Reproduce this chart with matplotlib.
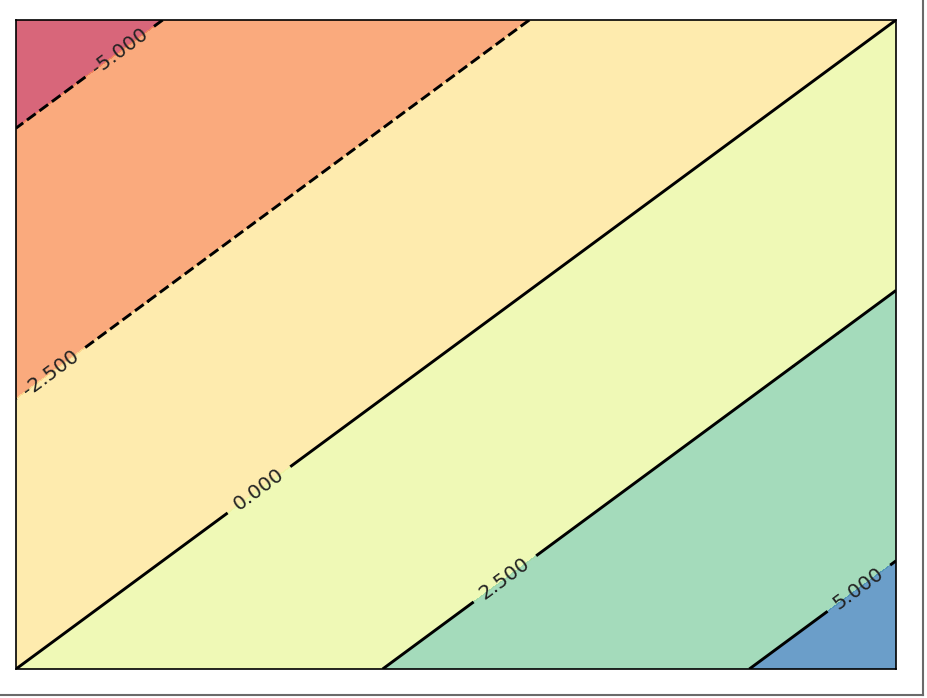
import matplotlib
matplotlib.use("Agg")
import matplotlib.pyplot as plt
import numpy as np
from matplotlib.lines import Line2D

# field z = x - y on a square grid
x_range = [-3.0, 3.0]
y_range = [-3.0, 3.0]
levels = [-7.5, -5.0, -2.5, 0.0, 2.5, 5.0, 7.5]
line_levels = [-5.0, -2.5, 0.0, 2.5, 5.0]
label_spots = [(-2.29, 2.70), (-2.77, -0.25), (-1.34, -1.35), (0.33, -2.16), (2.74, -2.24)]

x = np.linspace(x_range[0], x_range[1], 61)
y = np.linspace(y_range[0], y_range[1], 61)
X, Y = np.meshgrid(x, y)
Z = X - Y

fig = plt.figure(figsize=(9.28, 6.98), dpi=100)
ax = fig.add_axes([16/928, 1 - 669/698, 880/928, 649/698])

ax.contourf(X, Y, Z, levels=levels, cmap='Spectral', alpha=0.75)
cs = ax.contour(X, Y, Z, levels=line_levels, colors='k', linewidths=2.1)
ax.clabel(cs, fmt='%1.3f', fontsize=14.5, colors='#222222', inline=True,
          inline_spacing=10, manual=label_spots)

ax.set_xlim(x_range)
ax.set_ylim(y_range)
ax.set_xticks([])
ax.set_yticks([])
for s in ax.spines.values():
    s.set_linewidth(1.2)

# window frame seen on the right and bottom edges
fig.add_artist(Line2D([0, 923/928], [1 - 695/698, 1 - 695/698], transform=fig.transFigure,
                      color='#6a6a6a', linewidth=1.5))
fig.add_artist(Line2D([923/928, 923/928], [1 - 695/698, 1], transform=fig.transFigure,
                      color='#6a6a6a', linewidth=1.5))

fig.savefig("out.png", dpi=100)
